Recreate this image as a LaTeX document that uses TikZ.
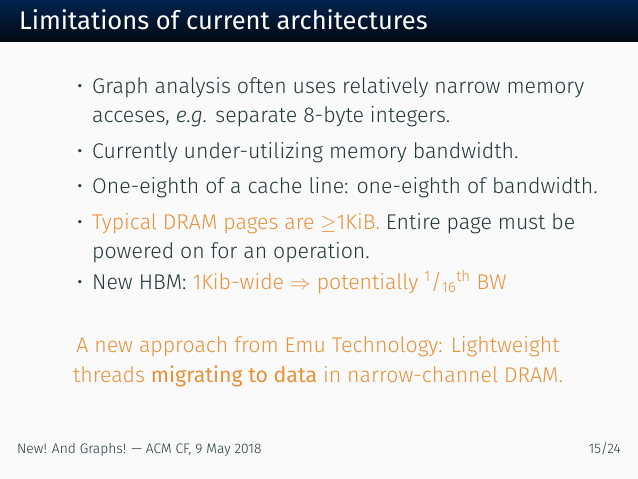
\documentclass[tikz,border=0pt]{standalone}
\usepackage{fontspec}
\setmainfont{Fira Sans}[UprightFont=* Light,ItalicFont=* Light Italic,BoldFont=*]
\newfontfamily\titlefont{Fira Sans}
\usepackage{amssymb}
\definecolor{bg}{HTML}{FAFAFA}
\definecolor{fg}{HTML}{23373B}
\definecolor{org}{HTML}{E8913A}
\definecolor{bartop}{HTML}{00234F}
\definecolor{barbot}{HTML}{050A12}
\begin{document}
\begin{tikzpicture}[x=1pt,y=-1pt,
  body/.style={anchor=base west,inner sep=0,text=fg,font=\fontsize{21.3}{25}\selectfont},
  bul/.style={anchor=base,inner sep=0,text=fg,font=\fontsize{21.3}{25}\selectfont},
  ctr/.style={anchor=base,inner sep=0,text=org,font=\fontsize{21.3}{25}\selectfont},
  foot/.style={inner sep=0,text=fg,font=\fontsize{13.8}{16}\selectfont}]
\fill[bg] (0,0) rectangle (638,479);
\shade[top color=bartop,bottom color=barbot] (0,0) rectangle (638,41);
\node[anchor=base west,inner sep=0,text=white,font=\titlefont\fontsize{25.5}{28}\selectfont] (title) at (19,30) {Limitations of current architectures};
\foreach \y/\n in {93/b1,158/b2,193/b3,229/b4,289/b5}
  \node[bul] (\n) at (80,\y) {\textbullet};
\node[body] (l1) at (92,93) {Graph analysis often uses relatively narrow memory};
\node[body] (l2) at (92,122) {acceses, \textit{e.g.} separate 8-byte integers.};
\node[body] (l3) at (92,158) {Currently under-utilizing memory bandwidth.};
\node[body] (l4) at (92,193) {One-eighth of a cache line: one-eighth of bandwidth.};
\node[body] (l5) at (92,229) {\textcolor{org}{Typical DRAM pages are $\geq$1KiB.} Entire page must be};
\node[body] (l6) at (92,258) {powered on for an operation.};
\node[body] (l7) at (92,289) {New HBM: \textcolor{org}{1Kib-wide $\Rightarrow$ potentially \textsuperscript{1}/\textsubscript{16}\textsuperscript{th} BW}};
\node[ctr] (p1) at (318,352) {A new approach from Emu Technology: Lightweight};
\node[ctr] (p2) at (318,382) {threads {\bfseries migrating to data} in narrow-channel DRAM.};
\node[foot,anchor=base west] (f1) at (17,453) {New! And Graphs! — ACM CF, 9 May 2018};
\node[foot,anchor=base east] (f2) at (621,453) {15/24};
\end{tikzpicture}
\end{document}
